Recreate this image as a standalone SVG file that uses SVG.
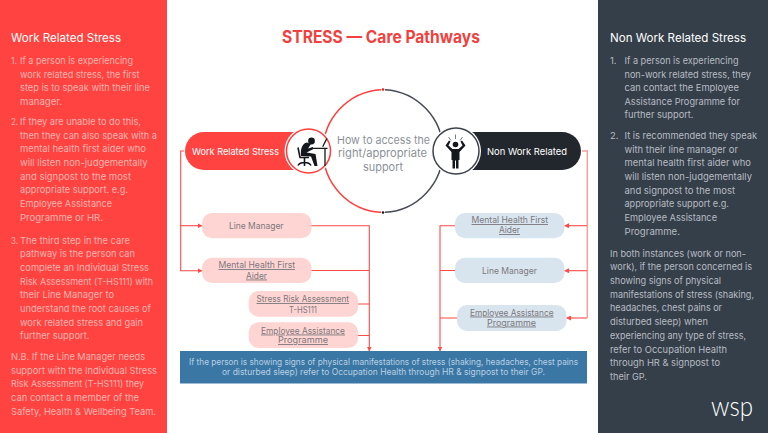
<svg xmlns="http://www.w3.org/2000/svg" width="768" height="433" viewBox="0 0 768 433">
<style>
text{font-family:"Inter","Liberation Sans",sans-serif;}
.b{font-size:9.4px;}
.lb{fill:#FFB3B0;}
.rb{fill:#B7BCC2;}
.h{font-size:11.4px;fill:#fff;}
.n{font-size:9px;fill:#7C787C;}
.u{text-decoration:underline;}
.c{fill:none;stroke:#FF4A47;stroke-width:1.1;}
.p{fill:none;stroke:#FF9C9A;stroke-width:1.4;}
.lf{fill:#FFD5D3;}
.rf{fill:#D8E5EF;}
.k{fill:#14171B;}
</style>
<defs>
<marker id="a" markerWidth="5" markerHeight="5" refX="4.5" refY="2.5" orient="auto" markerUnits="userSpaceOnUse"><path d="M0 0L5 2.5L0 5z" fill="#FF4A47"/></marker>
</defs>
<rect width="768" height="433" fill="#fff"/>
<g id="panel-left">
<rect width="167" height="433" fill="#FF4340"/>
<text class="h" x="11" y="42" textLength="110" lengthAdjust="spacingAndGlyphs">Work Related Stress</text>
<g class="b lb">
<text x="11" y="64" textLength="6" lengthAdjust="spacingAndGlyphs">1.</text><text x="20" y="64" textLength="113" lengthAdjust="spacingAndGlyphs">If a person is experiencing</text>
<text x="20" y="77.5" textLength="119.5" lengthAdjust="spacingAndGlyphs">work related stress, the first</text>
<text x="20" y="91" textLength="130" lengthAdjust="spacingAndGlyphs">step is to speak with their line</text>
<text x="20" y="104.5" textLength="42" lengthAdjust="spacingAndGlyphs">manager.</text>
<text x="11" y="125" textLength="7" lengthAdjust="spacingAndGlyphs">2.</text><text x="20" y="125" textLength="121" lengthAdjust="spacingAndGlyphs">If they are unable to do this,</text>
<text x="20" y="138.5" textLength="137" lengthAdjust="spacingAndGlyphs">then they can also speak with a</text>
<text x="20" y="152" textLength="126" lengthAdjust="spacingAndGlyphs">mental health first aider who</text>
<text x="20" y="166" textLength="127.5" lengthAdjust="spacingAndGlyphs">will listen non-judgementally</text>
<text x="20" y="180" textLength="111" lengthAdjust="spacingAndGlyphs">and signpost to the most</text>
<text x="20" y="193" textLength="108" lengthAdjust="spacingAndGlyphs">appropriate support. e.g.</text>
<text x="20" y="207" textLength="92" lengthAdjust="spacingAndGlyphs">Employee Assistance</text>
<text x="20" y="221" textLength="83" lengthAdjust="spacingAndGlyphs">Programme or HR.</text>
<text x="11" y="243.5" textLength="7" lengthAdjust="spacingAndGlyphs">3.</text><text x="20" y="243.5" textLength="110" lengthAdjust="spacingAndGlyphs">The third step in the care</text>
<text x="20" y="257" textLength="115" lengthAdjust="spacingAndGlyphs">pathway is the person can</text>
<text x="20" y="271" textLength="129" lengthAdjust="spacingAndGlyphs">complete an Individual Stress</text>
<text x="20" y="284.5" textLength="133" lengthAdjust="spacingAndGlyphs">Risk Assessment (T-HS111) with</text>
<text x="20" y="298" textLength="94" lengthAdjust="spacingAndGlyphs">their Line Manager to</text>
<text x="20" y="312" textLength="131" lengthAdjust="spacingAndGlyphs">understand the root causes of</text>
<text x="20" y="325.5" textLength="123" lengthAdjust="spacingAndGlyphs">work related stress and gain</text>
<text x="20" y="339" textLength="69.5" lengthAdjust="spacingAndGlyphs">further support.</text>
<text x="11" y="360" textLength="134" lengthAdjust="spacingAndGlyphs">N.B. If the Line Manager needs</text>
<text x="11" y="373.5" textLength="146" lengthAdjust="spacingAndGlyphs">support with the Individual Stress</text>
<text x="11" y="387" textLength="133" lengthAdjust="spacingAndGlyphs">Risk Assessment (T-HS111) they</text>
<text x="11" y="401" textLength="128" lengthAdjust="spacingAndGlyphs">can contact a member of the</text>
<text x="11" y="414.5" textLength="145" lengthAdjust="spacingAndGlyphs">Safety, Health &amp; Wellbeing Team.</text>
</g>
</g>
<g id="panel-right">
<rect x="598" width="170" height="433" fill="#353F4A"/>
<text class="h" x="610" y="42" textLength="136" lengthAdjust="spacingAndGlyphs">Non Work Related Stress</text>
<g class="b rb">
<text x="610" y="64">1.</text><text x="624.5" y="64" textLength="114" lengthAdjust="spacingAndGlyphs">If a person is experiencing</text>
<text x="624.5" y="77.5" textLength="126.5" lengthAdjust="spacingAndGlyphs">non-work related stress, they</text>
<text x="624.5" y="91" textLength="114.5" lengthAdjust="spacingAndGlyphs">can contact the Employee</text>
<text x="624.5" y="104.5" textLength="115.5" lengthAdjust="spacingAndGlyphs">Assistance Programme for</text>
<text x="624.5" y="118" textLength="69" lengthAdjust="spacingAndGlyphs">further support.</text>
<text x="610" y="139">2.</text><text x="624.5" y="139" textLength="132.5" lengthAdjust="spacingAndGlyphs">It is recommended they speak</text>
<text x="624.5" y="152.5" textLength="113.5" lengthAdjust="spacingAndGlyphs">with their line manager or</text>
<text x="624.5" y="166" textLength="126.5" lengthAdjust="spacingAndGlyphs">mental health first aider who</text>
<text x="624.5" y="180" textLength="127.5" lengthAdjust="spacingAndGlyphs">will listen non-judgementally</text>
<text x="624.5" y="194" textLength="110.5" lengthAdjust="spacingAndGlyphs">and signpost to the most</text>
<text x="624.5" y="207" textLength="104.5" lengthAdjust="spacingAndGlyphs">appropriate support e.g.</text>
<text x="624.5" y="221" textLength="92.5" lengthAdjust="spacingAndGlyphs">Employee Assistance</text>
<text x="624.5" y="235" textLength="55.5" lengthAdjust="spacingAndGlyphs">Programme.</text>
<text x="610" y="257" textLength="136" lengthAdjust="spacingAndGlyphs">In both instances (work or non-</text>
<text x="610" y="270" textLength="142" lengthAdjust="spacingAndGlyphs">work), if the person concerned is</text>
<text x="610" y="284" textLength="111" lengthAdjust="spacingAndGlyphs">showing signs of physical</text>
<text x="610" y="298" textLength="144" lengthAdjust="spacingAndGlyphs">manifestations of stress (shaking,</text>
<text x="610" y="311" textLength="112" lengthAdjust="spacingAndGlyphs">headaches, chest pains or</text>
<text x="610" y="325" textLength="98" lengthAdjust="spacingAndGlyphs">disturbed sleep) when</text>
<text x="610" y="339" textLength="136" lengthAdjust="spacingAndGlyphs">experiencing any type of stress,</text>
<text x="610" y="353" textLength="117" lengthAdjust="spacingAndGlyphs">refer to Occupation Health</text>
<text x="610" y="366" textLength="110" lengthAdjust="spacingAndGlyphs">through HR &amp; signpost to</text>
<text x="610" y="380" textLength="37" lengthAdjust="spacingAndGlyphs">their GP.</text>
</g>
<text x="711" y="416" font-size="28" font-weight="300" fill="#fff" style="font-family:'Lato','Liberation Sans',sans-serif" textLength="42" lengthAdjust="spacingAndGlyphs">wsp</text>
</g>
<text id="title" x="282" y="42.5" font-size="17" font-weight="700" fill="#F0413E" textLength="198" lengthAdjust="spacingAndGlyphs">STRESS — Care Pathways</text>
<g id="connectors">
<path class="c" d="M184 151H180.7V270.7H202" marker-end="url(#a)"/>
<path class="c" d="M180.7 225.7H202" marker-end="url(#a)"/>
<path class="p" d="M582 151H587.3V318"/>
<path class="c" d="M587 225.7H564.5" marker-end="url(#a)"/>
<path class="c" d="M587 270.7H564.5" marker-end="url(#a)"/>
<path class="c" d="M587 318H566.5" marker-end="url(#a)"/>
<path class="c" d="M311 225.7H369.3V351" marker-end="url(#a)"/>
<path class="c" d="M311 270.5H369.3M358 304H369.3M358 335.5H369.3"/>
<path class="c" d="M455 225.7H440V351" marker-end="url(#a)"/>
<path class="c" d="M455 270.5H440M457 318H440"/>
</g>
<g id="hub">
<path d="M381 89.7A61.4 61.4 0 0 0 381 212.3" fill="none" stroke="#FF3F3C" stroke-width="1.5"/>
<path d="M385 89.7A61.4 61.4 0 0 1 385 212.3" fill="none" stroke="#474C55" stroke-width="1.5"/>
<circle cx="383" cy="89.5" r="1.3" fill="#F01818"/>
<circle cx="383" cy="212.5" r="1.3" fill="#14171B"/>
<g font-size="11" fill="#8C9197">
<text x="337" y="144" textLength="93" lengthAdjust="spacingAndGlyphs">How to access the</text>
<text x="338" y="157" textLength="89" lengthAdjust="spacingAndGlyphs">right/appropriate</text>
<text x="363" y="170.5" textLength="40" lengthAdjust="spacingAndGlyphs">support</text>
</g>
</g>
<g id="node-work">
<path d="M204 132H300V170H204A19 19 0 0 1 204 132Z" fill="#FF4340"/>
<text x="192" y="155" font-size="9.5" fill="#fff" textLength="87" lengthAdjust="spacingAndGlyphs">Work Related Stress</text>
<circle cx="308.5" cy="151" r="24" fill="#fff"/>
<circle cx="308.5" cy="151" r="22" fill="#fff" stroke="#FF3F3C" stroke-width="1.5"/>
<circle class="k" cx="311.5" cy="141" r="3.4"/>
<path class="k" d="M307 142.5C301.5 143.5 300.5 150 301 156L311 156.5L314.5 166H317.5L315.5 154L306.5 152.5L313 149.2L313 147L308 148.5L311 144Z"/>
<path d="M311 148.4H327.5M325 148.4V166M322.7 146.8L326.8 138.5" fill="none" stroke="#14171B" stroke-width="1.3"/>
<path d="M298 147.5L300 157.5H309M304.5 157.5V162M298 165.5C300 161.5 309 161.5 311 165.5M304.5 162V166" fill="none" stroke="#14171B" stroke-width="1.6"/>
</g>
<g id="node-nonwork">
<path d="M470 132H562A19 19 0 0 1 562 170H470Z" fill="#22272E"/>
<text x="487" y="154.5" font-size="9.5" fill="#fff" textLength="80" lengthAdjust="spacingAndGlyphs">Non Work Related</text>
<circle cx="456" cy="151" r="25" fill="#fff"/>
<circle cx="456" cy="151" r="23" fill="#fff" stroke="#3D424A" stroke-width="1.5"/>
<circle class="k" cx="455.5" cy="144.5" r="2.8"/>
<path class="k" d="M449 140.5L445.5 145.5L451.5 152V160H452.5V168.5H455V160.5H456V168.5H458.5V160H459.5V152L465.5 145.5L462 140.5L460.5 141.5L462.5 145.5L458.5 149H452.5L448.5 145.5L450.5 141.5Z"/>
<path d="M448.5 137L451 140.5M455.5 134.5V139M462.5 137L460 140.5" fill="none" stroke="#777C82" stroke-width="1"/>
</g>
<g id="node-l1"><rect class="lf" x="202" y="213" width="109.5" height="25.3" rx="10"/><text class="n" x="229" y="229" textLength="54.5" lengthAdjust="spacingAndGlyphs">Line Manager</text></g>
<g id="node-l2"><rect class="lf" x="202" y="257.7" width="109.5" height="25.3" rx="10"/><text class="n u" x="218.5" y="268" textLength="76.5" lengthAdjust="spacingAndGlyphs">Mental Health First</text><text class="n u" x="246" y="278.5" textLength="21" lengthAdjust="spacingAndGlyphs">Aider</text></g>
<g id="node-l3"><rect class="lf" x="248.7" y="291" width="109.5" height="25.7" rx="10"/><text class="n u" x="256.5" y="302" textLength="92.5" lengthAdjust="spacingAndGlyphs">Stress Risk Assessment</text><text class="n" x="289" y="312.5" textLength="28" lengthAdjust="spacingAndGlyphs">T-HS111</text></g>
<g id="node-l4"><rect class="lf" x="248.7" y="322.3" width="109.5" height="25.7" rx="10"/><text class="n u" x="261" y="333.5" textLength="84" lengthAdjust="spacingAndGlyphs">Employee Assistance</text><text class="n u" x="278" y="343" textLength="50" lengthAdjust="spacingAndGlyphs">Programme</text></g>
<g id="node-r1"><rect class="rf" x="455" y="213" width="109.5" height="25.3" rx="10"/><text class="n u" x="471.5" y="223" textLength="76.5" lengthAdjust="spacingAndGlyphs">Mental Health First</text><text class="n u" x="499" y="233" textLength="21" lengthAdjust="spacingAndGlyphs">Aider</text></g>
<g id="node-r2"><rect class="rf" x="455" y="257.7" width="109.5" height="25.3" rx="10"/><text class="n" x="482" y="274" textLength="55" lengthAdjust="spacingAndGlyphs">Line Manager</text></g>
<g id="node-r3"><rect class="rf" x="457" y="305" width="109.5" height="26" rx="10"/><text class="n u" x="470" y="315.5" textLength="83.5" lengthAdjust="spacingAndGlyphs">Employee Assistance</text><text class="n u" x="487" y="325.5" textLength="49" lengthAdjust="spacingAndGlyphs">Programme</text></g>
<g id="node-banner">
<rect x="180" y="351" width="407" height="32.5" fill="#3B77A5"/>
<text x="189" y="365" font-size="9" fill="#B8D0E2" textLength="389" lengthAdjust="spacingAndGlyphs">If the person is showing signs of physical manifestations of stress (shaking, headaches, chest pains</text>
<text x="222" y="374.5" font-size="9" fill="#B8D0E2" textLength="323" lengthAdjust="spacingAndGlyphs">or disturbed sleep) refer to Occupation Health through HR &amp; signpost to their GP.</text>
</g>
</svg>
